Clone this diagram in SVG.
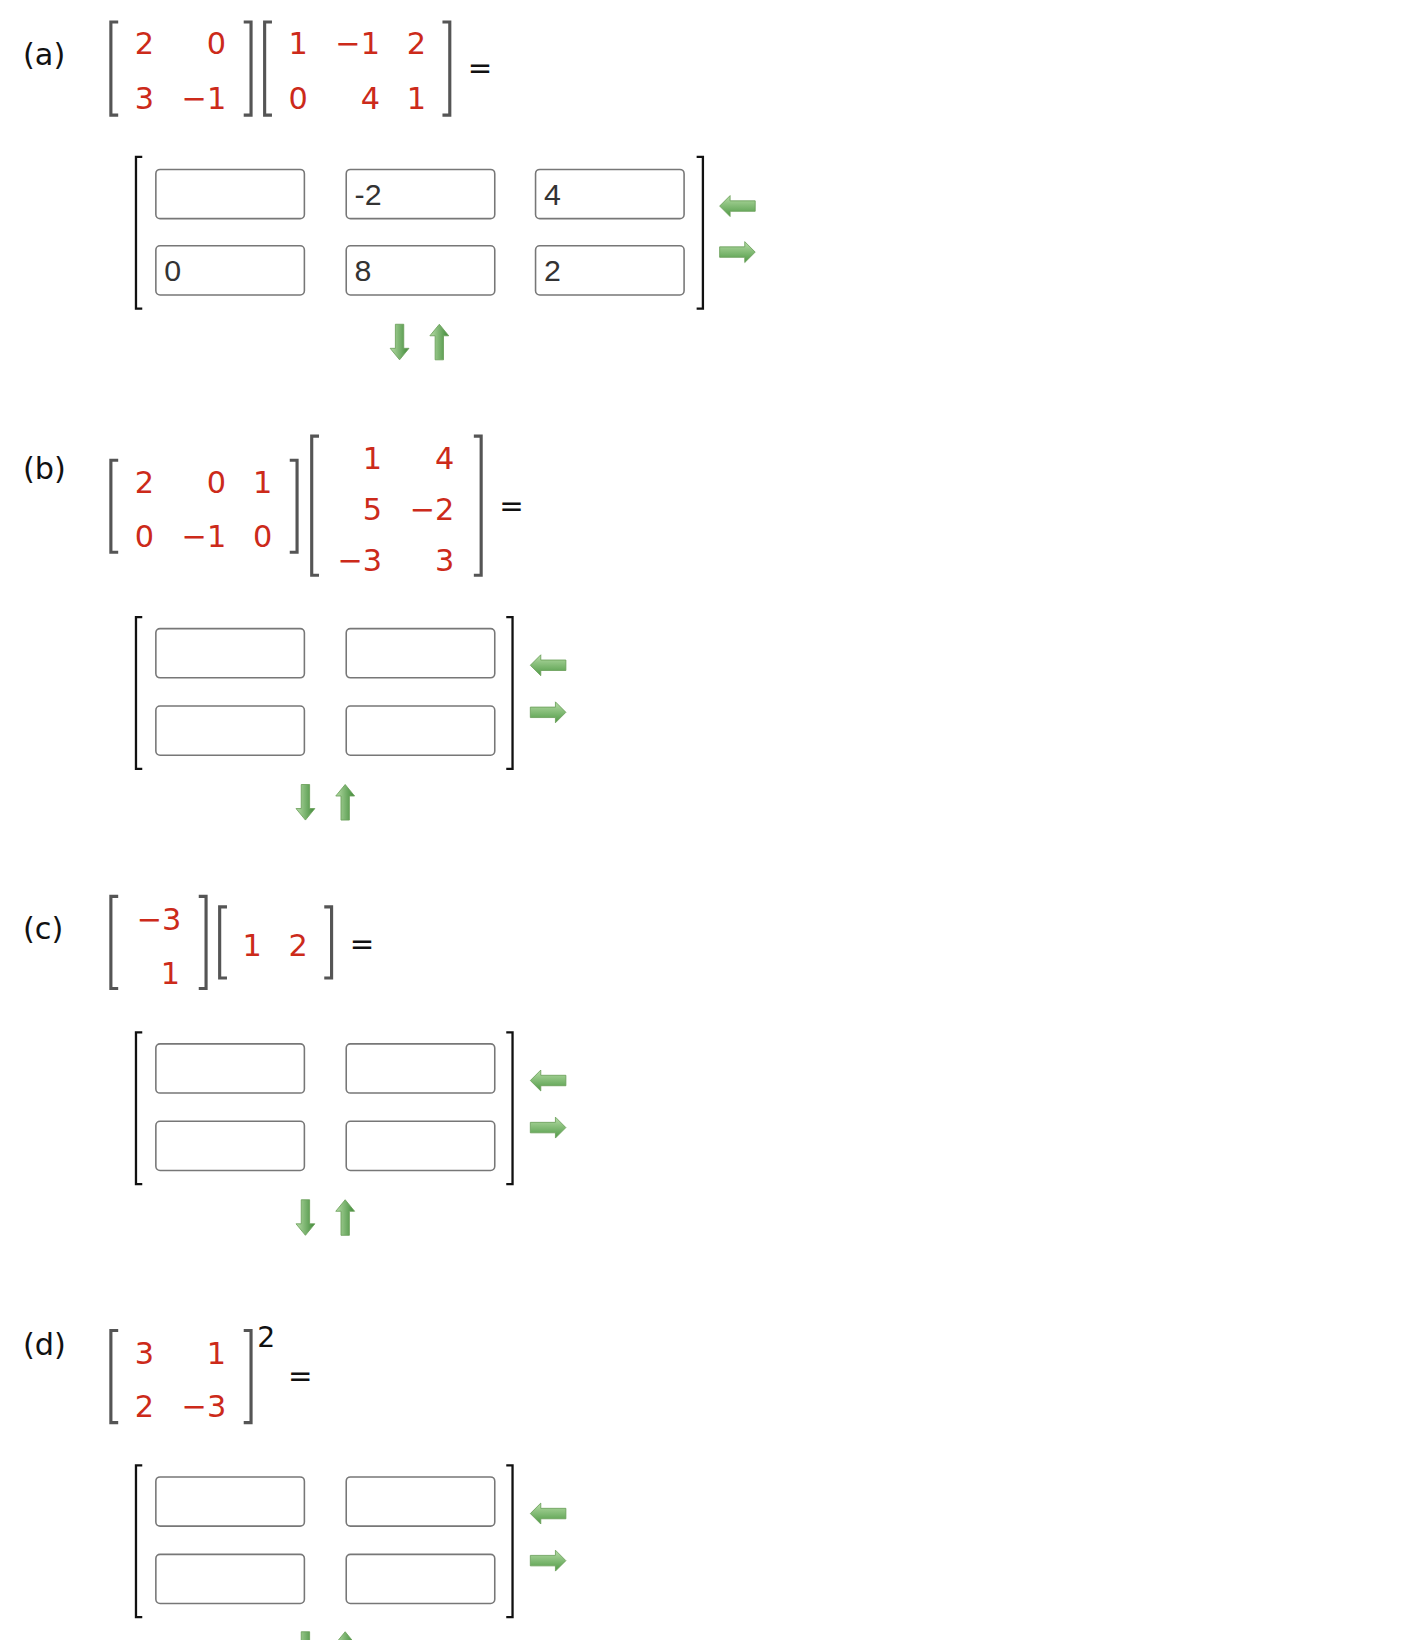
<svg xmlns="http://www.w3.org/2000/svg" width="1418" height="1640" viewBox="0 0 1418 1640">
<style>
.lbl{font-family:"DejaVu Sans",sans-serif;font-size:29px;fill:#111}
.e{font-family:"DejaVu Sans",sans-serif;font-size:29px;fill:#cc2a1a;text-anchor:middle}
.eq{font-family:"DejaVu Sans",sans-serif;font-size:28px;fill:#111;text-anchor:middle}
.br{fill:none;stroke:#555;stroke-width:3}
.ab{fill:none;stroke:#111;stroke-width:2.2}
.box{fill:#fff;stroke:#777;stroke-width:1.5}
.bt{font-family:"Liberation Sans",Arial,sans-serif;font-size:29px;fill:#333}
.ar{fill:url(#g);stroke:#6a9f5a;stroke-width:0.8}
</style>
<defs>
<linearGradient id="g" x1="0" y1="0" x2="0" y2="1"><stop offset="0" stop-color="#b6dca6"/><stop offset="1" stop-color="#4f9a45"/></linearGradient>
<linearGradient id="gv" x1="0" y1="0" x2="1" y2="0"><stop offset="0" stop-color="#b6dca6"/><stop offset="1" stop-color="#3f8a38"/></linearGradient>
<g id="la"><polygon class="ar" points="0,0 10,-10 10,-5 34,-5 34,5 10,5 10,10"/></g>
<g id="ra"><polygon class="ar" points="34,0 24,-10 24,-5 0,-5 0,5 24,5 24,10"/></g>
<g id="da"><polygon points="0,34 -9,23 -4,23 -4,0 4,0 4,23 9,23" fill="url(#gv)" stroke="#6a9f5a" stroke-width="0.8"/></g>
<g id="ua"><polygon points="0,0 -9,11 -4,11 -4,34 4,34 4,11 9,11" fill="url(#gv)" stroke="#6a9f5a" stroke-width="0.8"/></g>
</defs>
<g transform="scale(1.046)">
<g id="part-a">
<text class="lbl" x="22" y="62">(a)</text>
<path class="br" d="M113,21 H106 V110 H113 M233,21 H240 V110 H233"/>
<text class="e" x="138" y="52">2</text><text class="e" x="207" y="52">0</text>
<text class="e" x="138" y="104">3</text><text class="e" x="195" y="104">−1</text>
<path class="br" d="M260,21 H253 V110 H260 M423,21 H430 V110 H423"/>
<text class="e" x="285" y="52">1</text><text class="e" x="342" y="52">−1</text><text class="e" x="398" y="52">2</text>
<text class="e" x="285" y="104">0</text><text class="e" x="354" y="104">4</text><text class="e" x="398" y="104">1</text>
<text class="eq" x="459" y="75">=</text>
</g>
<g id="answer-a">
<path class="ab" d="M136,150 H130 V295 H136 M666,150 H672 V295 H666"/>
<rect class="box" x="149" y="162" width="142" height="47" rx="4"/>
<rect class="box" x="331" y="162" width="142" height="47" rx="4"/><text class="bt" x="339" y="196">-2</text>
<rect class="box" x="512" y="162" width="142" height="47" rx="4"/><text class="bt" x="520" y="196">4</text>
<rect class="box" x="149" y="235" width="142" height="47" rx="4"/><text class="bt" x="157" y="269">0</text>
<rect class="box" x="331" y="235" width="142" height="47" rx="4"/><text class="bt" x="339" y="269">8</text>
<rect class="box" x="512" y="235" width="142" height="47" rx="4"/><text class="bt" x="520" y="269">2</text>
<use href="#la" x="688" y="197"/><use href="#ra" x="688" y="241"/>
<use href="#da" x="382" y="310"/><use href="#ua" x="420" y="310"/>
</g>
<g id="part-b">
<text class="lbl" x="22" y="458">(b)</text>
<path class="br" d="M113,440 H106 V528 H113 M277,440 H284 V528 H277"/>
<text class="e" x="138" y="471">2</text><text class="e" x="207" y="471">0</text><text class="e" x="251" y="471">1</text>
<text class="e" x="138" y="523">0</text><text class="e" x="195" y="523">−1</text><text class="e" x="251" y="523">0</text>
<path class="br" d="M305,417 H298 V550 H305 M453,417 H460 V550 H453"/>
<text class="e" x="356" y="448">1</text><text class="e" x="425" y="448">4</text>
<text class="e" x="356" y="497">5</text><text class="e" x="413" y="497">−2</text>
<text class="e" x="344" y="546">−3</text><text class="e" x="425" y="546">3</text>
<text class="eq" x="489" y="493">=</text>
</g>
<g id="answer-b">
<path class="ab" d="M136,590 H130 V735 H136 M484,590 H490 V735 H484"/>
<rect class="box" x="149" y="601" width="142" height="47" rx="4"/>
<rect class="box" x="331" y="601" width="142" height="47" rx="4"/>
<rect class="box" x="149" y="675" width="142" height="47" rx="4"/>
<rect class="box" x="331" y="675" width="142" height="47" rx="4"/>
<use href="#la" x="507" y="636"/><use href="#ra" x="507" y="681"/>
<use href="#da" x="292" y="750"/><use href="#ua" x="330" y="750"/>
</g>
<g id="part-c">
<text class="lbl" x="22" y="898">(c)</text>
<path class="br" d="M113,857 H106 V945 H113 M190,857 H197 V945 H190"/>
<text class="e" x="152" y="889">−3</text><text class="e" x="163" y="941">1</text>
<path class="br" d="M217,867 H210 V935 H217 M310,867 H317 V935 H310"/>
<text class="e" x="241" y="914">1</text><text class="e" x="285" y="914">2</text>
<text class="eq" x="346" y="912">=</text>
</g>
<g id="answer-c">
<path class="ab" d="M136,987 H130 V1132 H136 M484,987 H490 V1132 H484"/>
<rect class="box" x="149" y="998" width="142" height="47" rx="4"/>
<rect class="box" x="331" y="998" width="142" height="47" rx="4"/>
<rect class="box" x="149" y="1072" width="142" height="47" rx="4"/>
<rect class="box" x="331" y="1072" width="142" height="47" rx="4"/>
<use href="#la" x="507" y="1033"/><use href="#ra" x="507" y="1078"/>
<use href="#da" x="292" y="1147"/><use href="#ua" x="330" y="1147"/>
</g>
<g id="part-d">
<text class="lbl" x="22" y="1295">(d)</text>
<path class="br" d="M113,1272 H106 V1360 H113 M233,1272 H240 V1360 H233"/>
<text class="e" x="138" y="1304">3</text><text class="e" x="207" y="1304">1</text>
<text class="e" x="138" y="1355">2</text><text class="e" x="195" y="1355">−3</text>
<text class="lbl" x="246" y="1288" style="font-size:27px">2</text>
<text class="eq" x="287" y="1325">=</text>
</g>
<g id="answer-d">
<path class="ab" d="M136,1401 H130 V1546 H136 M484,1401 H490 V1546 H484"/>
<rect class="box" x="149" y="1412" width="142" height="47" rx="4"/>
<rect class="box" x="331" y="1412" width="142" height="47" rx="4"/>
<rect class="box" x="149" y="1486" width="142" height="47" rx="4"/>
<rect class="box" x="331" y="1486" width="142" height="47" rx="4"/>
<use href="#la" x="507" y="1447"/><use href="#ra" x="507" y="1492"/>
<use href="#da" x="292" y="1560"/><use href="#ua" x="330" y="1560"/>
</g>
</g>
</svg>
